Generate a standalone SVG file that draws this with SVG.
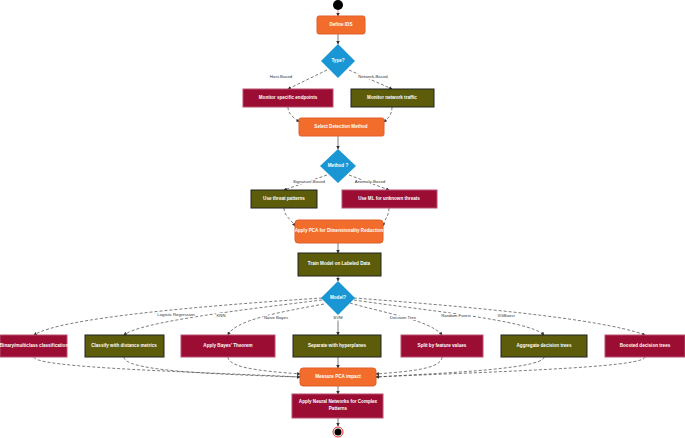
<svg xmlns="http://www.w3.org/2000/svg" width="685" height="438" viewBox="0 0 685 438">
<defs>
<marker id="a" viewBox="0 0 6 6" refX="5" refY="3" markerWidth="5" markerHeight="5" orient="auto"><path d="M0,0L6,3L0,6z" fill="#333"/></marker>
<style>
.o{fill:#f26d2c;stroke:#e0602a;stroke-width:1}
.r{fill:#9b0d33;stroke:#b85070;stroke-width:1}
.g{fill:#5c5c0a;stroke:#222;stroke-width:1}
.d{fill:#1a96d4}
text{font-family:"Liberation Sans",Arial,sans-serif;font-size:4.6px;font-weight:bold;fill:#fff;text-anchor:middle;dominant-baseline:middle}
.l{fill:#333;font-weight:normal;font-size:4.3px;stroke:#fff;stroke-width:2px;paint-order:stroke}
.e path{fill:none;stroke:#444;stroke-width:0.7;marker-end:url(#a)}
.e .ds{stroke-dasharray:3,2}
</style>
</defs>
<rect width="685" height="438" fill="#fff"/>
<g class="e">
<path d="M338,10V16" style="stroke:#e05050"/>
<path d="M338,34V44"/>
<path class="ds" d="M327,70L288,89"/>
<path class="ds" d="M349,70L392,89"/>
<path class="ds" d="M288,107C288,115 295,118 299,122"/>
<path class="ds" d="M392,107C392,115 388,118 384,122"/>
<path d="M338,136V149"/>
<path class="ds" d="M327,175L284,190"/>
<path class="ds" d="M349,175L389,190"/>
<path class="ds" d="M284,208C284,216 290,218 295,226"/>
<path class="ds" d="M389,208C389,216 385,218 383,226"/>
<path d="M338,243V253"/>
<path d="M338,276V281"/>
<path class="ds" d="M322,298C200,306 60,318 34,335"/>
<path class="ds" d="M322,300C240,310 140,322 124,335"/>
<path class="ds" d="M324,304C280,312 235,320 228,335"/>
<path d="M338,315V335"/>
<path class="ds" d="M350,303C380,312 430,320 442,335"/>
<path class="ds" d="M354,300C420,310 530,320 544,335"/>
<path class="ds" d="M354,298C460,306 600,318 645,335"/>
<path class="ds" d="M34,357C34,368 200,372 300,377"/>
<path class="ds" d="M124,357C124,370 200,374 300,377"/>
<path class="ds" d="M228,357C228,370 280,372 300,374"/>
<path d="M338,357V368"/>
<path class="ds" d="M442,357C442,370 400,372 376,374"/>
<path class="ds" d="M544,357C544,370 420,374 376,377"/>
<path class="ds" d="M645,357C645,368 480,372 376,377"/>
<path d="M338,386V394"/>
<path d="M338,418V426"/>
</g>
<g id="labels">
<text class="l" x="281" y="77">Host-Based</text>
<text class="l" x="373" y="77">Network-Based</text>
<text class="l" x="309" y="182">Signature-Based</text>
<text class="l" x="370" y="182">Anomaly-Based</text>
<text class="l" x="176" y="315">Logistic Regression</text>
<text class="l" x="221" y="316">KNN</text>
<text class="l" x="276" y="318">Naive Bayes</text>
<text class="l" x="338" y="318">SVM</text>
<text class="l" x="403" y="318">Decision Tree</text>
<text class="l" x="456" y="316">Random Forest</text>
<text class="l" x="506" y="316">XGBoost</text>
</g>
<g id="start"><circle cx="338" cy="5" r="5" fill="#000"/></g>
<g id="define"><rect class="o" x="317" y="16" width="48" height="18" rx="2"/><text x="341" y="25">Define IDS</text></g>
<g id="type"><polygon class="d" points="338,44 355,61 338,78 321,61"/><text x="338" y="61">Type?</text></g>
<g id="host"><rect class="r" x="243" y="89" width="90" height="18"/><text x="288" y="98">Monitor specific endpoints</text></g>
<g id="net"><rect class="g" x="351" y="89" width="83" height="18"/><text x="392" y="98">Monitor network traffic</text></g>
<g id="select"><rect class="o" x="299" y="118" width="85" height="18" rx="2"/><text x="341" y="127">Select Detection Method</text></g>
<g id="method"><polygon class="d" points="338,149 356,166 338,183 320,166"/><text x="338" y="166">Method ?</text></g>
<g id="sig"><rect class="g" x="251" y="190" width="66" height="18"/><text x="284" y="199">Use threat patterns</text></g>
<g id="ml"><rect class="r" x="342" y="190" width="95" height="18"/><text x="389" y="199">Use ML for unknown threats</text></g>
<g id="pca"><rect class="o" x="295" y="220" width="88" height="23" rx="3"/><text x="339" y="231">Apply PCA for Dimensionality Reduction</text></g>
<g id="train"><rect class="g" x="298" y="253" width="83" height="23"/><text x="339" y="264">Train Model on Labeled Data</text></g>
<g id="model"><polygon class="d" points="338,281 355,298 338,315 321,298"/><text x="338" y="298">Model?</text></g>
<g id="lr"><rect class="r" x="0" y="335" width="67" height="22"/><text x="34" y="346">Binary/multiclass classification</text></g>
<g id="knn"><rect class="g" x="85" y="335" width="79" height="22"/><text x="124" y="346">Classify with distance metrics</text></g>
<g id="nb"><rect class="r" x="181" y="335" width="94" height="22"/><text x="228" y="346">Apply Bayes' Theorem</text></g>
<g id="svm"><rect class="g" x="293" y="335" width="88" height="22"/><text x="337" y="346">Separate with hyperplanes</text></g>
<g id="dt"><rect class="r" x="401" y="335" width="82" height="22"/><text x="442" y="346">Split by feature values</text></g>
<g id="rf"><rect class="g" x="501" y="335" width="86" height="22"/><text x="544" y="346">Aggregate decision trees</text></g>
<g id="xgb"><rect class="r" x="605" y="335" width="80" height="22"/><text x="645" y="346">Boosted decision trees</text></g>
<g id="measure"><rect class="o" x="300" y="368" width="76" height="18" rx="3"/><text x="338" y="377">Measure PCA impact</text></g>
<g id="nn"><rect class="r" x="292" y="394" width="91" height="24"/><text x="338" y="402">Apply Neural Networks for Complex</text><text x="338" y="409">Patterns</text></g>
<g id="end"><circle cx="338" cy="432" r="5" fill="#fff" stroke="#e03030" stroke-width="1"/><circle cx="338" cy="432" r="3.5" fill="#000"/></g>
</svg>
